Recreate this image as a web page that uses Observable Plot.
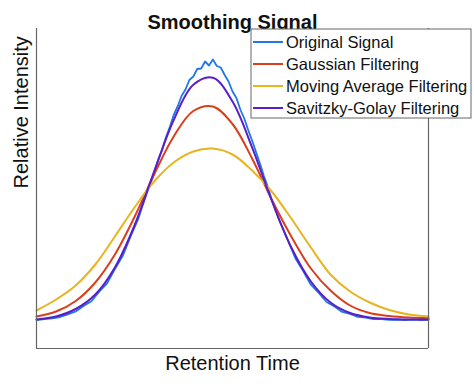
<!DOCTYPE html>
<html><head><meta charset="utf-8">
<script src="https://cdn.jsdelivr.net/npm/d3@7"></script>
<script src="https://cdn.jsdelivr.net/npm/@observablehq/plot@0.6"></script>
<style>body{margin:0;background:#fff} #chart{width:474px;height:386px}</style>
</head><body><div id="chart"></div>
<script>
const chartTitle = "Smoothing Signal";
const xLabel = "Retention Time";
const yLabel = "Relative Intensity";
const seriesNames = ["Original Signal", "Gaussian Filtering", "Moving Average Filtering", "Savitzky-Golay Filtering"];
const seriesColors = ["#1f78e4", "#d8401c", "#e8b420", "#5a1ec8"];

const timeOriginal = [0,2,4,6,8,10,12,14,16,18,20,22,24,26,28,
  30,31,32,33,34,35,36,37,38,39,40,41,42,43,44,45,46,47,48,49,50,51,52,53,54,55,56,57,58,59,60,
  62,64,66,68,70,72,74,76,78,80,82,84,86,88,90,92,94,96,98,100];
const originalSignal = [28.5,29.5,30.2,31.5,34.2,37,42.5,47.2,56.8,65.2,79.5,92.6,112,130.2,153.7,
  175,188,198,211,221.5,233.5,242,252.5,259,268.5,272,279.5,280,287,283,289,282.5,281,273.5,267,257,250.5,239,230,218.5,208,196.5,185,172.5,162,149,
  127.5,109.7,90.5,77.6,63.8,55.6,46.5,42,36.6,34.5,31.6,31,29.4,29.4,28.6,29,28.4,28.8,28.4,28.7];

const timeSmooth = [0,5,10,15,20,25,30,35,40,45,50,55,60,65,70,75,80,85,90,95,100];
const gaussianFiltered = [32,37,47.5,66,94,131.5,174,212,237.5,242,224.5,190,149,112,80,58,43,35.5,32.5,31,30.5];
const movingAverageFiltered = [38,49,63,84,112,141,167,186,197,200,194,178,157,130,101,74,57,46,38.5,34,32];
const savitzkyGolayFiltered = [29,32,39.5,54,81,123,177,228.4,263.7,270.8,247,201.2,148,101,67,46,35.5,31,29.5,29,29];

const xDomain = [0, 100];
const yDomain = [0, 320];

const origRows = timeOriginal.map((t, i) => ({series: seriesNames[0], time: t, value: originalSignal[i]}));
const smoothRows = [];
[[1, gaussianFiltered], [2, movingAverageFiltered], [3, savitzkyGolayFiltered]].forEach(([k, arr]) => {
  timeSmooth.forEach((t, i) => smoothRows.push({series: seriesNames[k], time: t, value: arr[i]}));
});

const font = "'Liberation Sans', Arial, sans-serif";
const chart = Plot.plot({
  width: 474, height: 386,
  marginTop: 28, marginLeft: 36, marginRight: 46, marginBottom: 38,
  style: {fontFamily: font, background: "white", overflow: "visible"},
  x: {domain: xDomain, axis: null},
  y: {domain: yDomain, axis: null},
  color: {domain: seriesNames, range: seriesColors},
  marks: [
    Plot.line(origRows, {x: "time", y: "value", z: "series", stroke: "series", strokeWidth: 1.8, curve: "linear"}),
    Plot.line(smoothRows, {x: "time", y: "value", z: "series", stroke: "series", strokeWidth: 2, curve: "catmull-rom"}),
    Plot.ruleX([xDomain[0]], {stroke: "#666", strokeWidth: 1.2}),
    Plot.ruleX([xDomain[1]], {stroke: "#666", strokeWidth: 1.2}),
    Plot.ruleY([yDomain[0]], {stroke: "#666", strokeWidth: 1.2}),
    Plot.text([chartTitle], {frameAnchor: "top", dy: -14, fontSize: 20, fontWeight: "bold", fill: "#111"}),
    Plot.text([xLabel], {frameAnchor: "bottom", dy: 21, fontSize: 20, fill: "#111"}),
    Plot.text([yLabel], {frameAnchor: "left", dx: -15, rotate: -90, fontSize: 20, fill: "#111"})
  ]
});
document.getElementById("chart").append(chart);

// legend
const svg = d3.select(chart);
const lg = svg.append("g").attr("transform", "translate(251,29)")
  .style("font-family", font).attr("text-anchor", "start");
lg.append("rect").attr("width", 220).attr("height", 89).attr("fill", "white").attr("stroke", "#666").attr("stroke-width", 1);
seriesNames.forEach((name, i) => {
  const y = 13 + i * 22;
  lg.append("line").attr("x1", 2).attr("x2", 32).attr("y1", y).attr("y2", y)
    .attr("stroke", seriesColors[i]).attr("stroke-width", 2);
  lg.append("text").attr("x", 35).attr("y", y).attr("dy", "0.35em").attr("text-anchor", "start")
    .attr("font-size", 16.5).attr("fill", "#111").text(name);
});
</script>
</body></html>
